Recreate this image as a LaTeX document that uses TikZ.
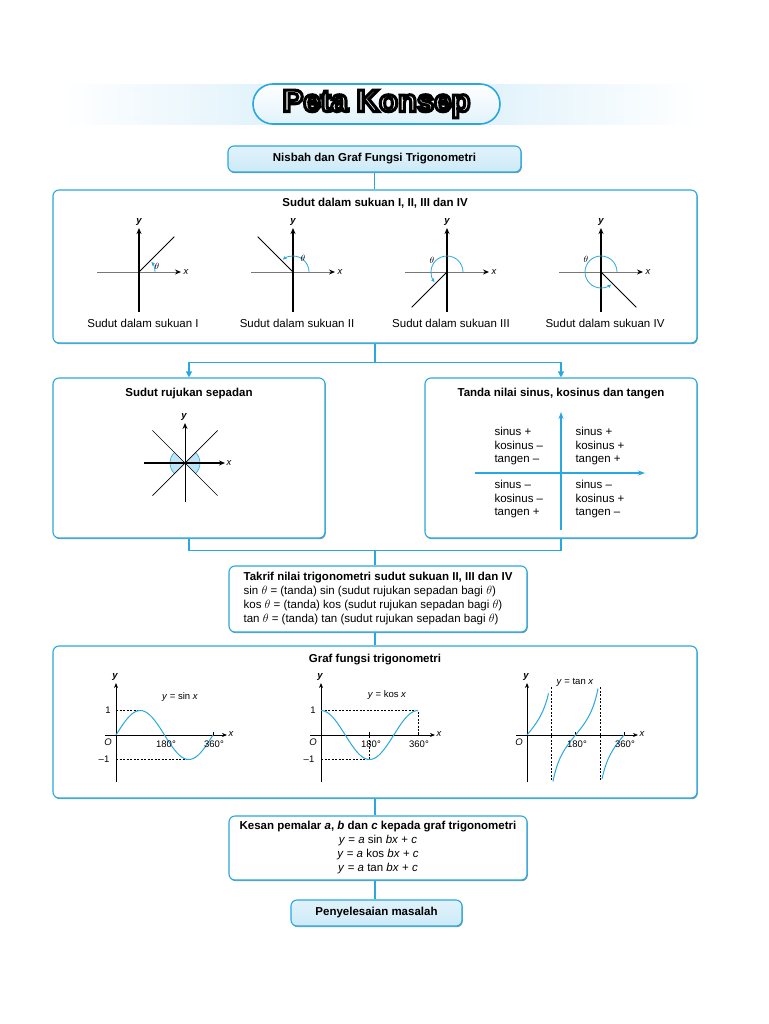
\documentclass[tikz,border=0pt]{standalone}
\usepackage{fontspec}
\setmainfont{Liberation Sans}
\newfontfamily\titlefont[FakeBold=10]{Liberation Sans}
\usetikzlibrary{arrows.meta,positioning,shadows,calc}
\definecolor{MapBlue}{HTML}{29A8DF}
\definecolor{HeadFill}{HTML}{CDEAF8}
\definecolor{BandBlue}{HTML}{D2ECF9}
\definecolor{ShadeBlue}{HTML}{BFE4F6}
\definecolor{AxisGray}{HTML}{777777}

\tikzset{
  mapbox/.style={draw=MapBlue, line width=1.1pt, rounded corners=6pt, fill=white,
    drop shadow={shadow xshift=0.8pt, shadow yshift=-1.2pt, fill=MapBlue!55!black, opacity=0.6}},
  headbox/.style={mapbox, top color=white!40!HeadFill, bottom color=HeadFill,
    font=\fontsize{11.5}{13}\selectfont\bfseries},
  link/.style={draw=MapBlue, line width=1.1pt},
  linkarrow/.style={link, -{Triangle[length=6pt,width=6pt]}},
  boxtitle/.style={font=\fontsize{11.5}{13}\selectfont\bfseries},
  small/.style={font=\fontsize{9.5}{11}\selectfont},
  axlab/.style={font=\fontsize{9.5}{11}\selectfont\itshape},
  ylab/.style={font=\fontsize{9.5}{11}\selectfont\itshape\bfseries},
  xaxis/.style={AxisGray, line width=1pt, -{Stealth[black,length=6pt,width=5pt]}},
  yaxis/.style={black, line width=1.6pt, -{Stealth[length=6pt,width=5pt]}},
  gaxis/.style={black, line width=0.8pt, -{Stealth[length=5pt,width=4pt]}},
  curve/.style={MapBlue, line width=1pt},
  guide/.style={black, dash pattern=on 2pt off 1.5pt, line width=0.5pt},
  signtext/.style={font=\fontsize{11.5}{13.5}\selectfont, align=left, anchor=west}
}

\begin{document}
\begin{tikzpicture}[x=1pt, y=1pt]
  \useasboundingbox[fill=white] (0,0) rectangle (768,-1024);

  % Title band
  \shade[left color=white, right color=BandBlue] (60,-85) rectangle (375,-125);
  \shade[left color=BandBlue, right color=white] (375,-85) rectangle (700,-125);
  \node[draw=MapBlue, line width=1.6pt, rounded corners=20pt, top color=white, bottom color=HeadFill!60,
    minimum width=247pt, minimum height=40pt] (title) at (376.5,-104) {};
  \node[text=white, font=\titlefont\bfseries\fontsize{31}{32}\selectfont] at (title)
    {\special{pdf:code 0 G}Peta Konsep};

  % Main boxes
  \node[headbox, minimum width=293pt, minimum height=26pt] (nisbah) at (374.5,-159)
    {Nisbah dan Graf Fungsi Trigonometri};
  \node[mapbox, minimum width=644pt, minimum height=153pt] (sukuan) at (375,-266.5) {};
  \node[boxtitle, below=5pt of sukuan.north] {Sudut dalam sukuan I, II, III dan IV};

  \node[mapbox, minimum width=272pt, minimum height=160pt] (rujukan) at (189,-458) {};
  \node[boxtitle, below=7pt of rujukan.north] {Sudut rujukan sepadan};
  \node[mapbox, minimum width=272pt, minimum height=160pt] (tanda) at (561,-458) {};
  \node[boxtitle, below=7pt of tanda.north] {Tanda nilai sinus, kosinus dan tangen};

  \node[mapbox, minimum width=298pt, minimum height=66pt, font=\fontsize{11.5}{14}\selectfont,
    align=left] (takrif) at (378,-599)
    {\textbf{Takrif nilai trigonometri sudut sukuan II, III dan IV}\\
     sin $\theta$ = (tanda) sin (sudut rujukan sepadan bagi $\theta$)\\
     kos $\theta$ = (tanda) kos (sudut rujukan sepadan bagi $\theta$)\\
     tan $\theta$ = (tanda) tan (sudut rujukan sepadan bagi $\theta$)};

  \node[mapbox, minimum width=644pt, minimum height=152pt] (graf) at (375,-722) {};
  \node[boxtitle, below=5pt of graf.north] {Graf fungsi trigonometri};

  \node[mapbox, minimum width=298pt, minimum height=64pt, font=\fontsize{11.5}{14}\selectfont,
    align=center] (kesan) at (378,-848)
    {\textbf{Kesan pemalar \textit{a}, \textit{b} dan \textit{c} kepada graf trigonometri}\\
     \textit{y} = \textit{a} sin \textit{bx} + \textit{c}\\
     \textit{y} = \textit{a} kos \textit{bx} + \textit{c}\\
     \textit{y} = \textit{a} tan \textit{bx} + \textit{c}};

  \node[headbox, minimum width=171pt, minimum height=26pt] (masalah) at (376.5,-913)
    {Penyelesaian masalah};

  % Connectors
  \draw[link] (nisbah.south) -- (nisbah.south |- sukuan.north);
  \coordinate (split) at ($(sukuan.south)+(0,-19)$);
  \draw[link] (sukuan.south) -- (split);
  \draw[linkarrow] (split) -| (rujukan.north);
  \draw[linkarrow] (split) -| (tanda.north);
  \coordinate (join) at ($(sukuan.south)+(0,-207)$);
  \draw[link] (rujukan.south) |- (join) -| (tanda.south);
  \draw[link] (join) -- (join |- takrif.north);
  \draw[link] (sukuan.south |- takrif.south) -- (sukuan.south |- graf.north);
  \draw[link] (graf.south) -- (graf.south |- kesan.north);
  \draw[link] (graf.south |- kesan.south) -- (graf.south |- masalah.north);

  % Angles in the four quadrants
  \foreach \cx/\ang/\quad/\tx/\ty in {139/45/I/18/6, 293/135/II/10/14, 447/225/III/-15/12, 601/315/IV/-15/13} {
    \begin{scope}[shift={(\cx,-272)}]
      \draw[xaxis] (-42,0) -- (42,0);
      \node[axlab] at (47,0) {x};
      \draw[yaxis] (0,-40) -- (0,44);
      \node[ylab] at (0,50) {y};
      \draw[black, line width=0.8pt] (0,0) -- (\ang:50);
      \draw[MapBlue, line width=0.8pt, -{Stealth[length=4pt,width=3.5pt]}] (16,0) arc (0:\ang-6:16);
      \node[font=\fontsize{9}{10}\selectfont] at (\tx,\ty) {$\theta$};
      \node[font=\fontsize{11.5}{13}\selectfont] at (4,-51) {Sudut dalam sukuan \quad};
    \end{scope}
  }

  % Reference angles
  \begin{scope}[shift={(185,-463)}]
    \fill[ShadeBlue] (0,0) -- (-45:15) arc (-45:45:15) -- cycle;
    \fill[ShadeBlue] (0,0) -- (135:15) arc (135:225:15) -- cycle;
    \draw[MapBlue, line width=0.6pt] (-45:15) arc (-45:45:15);
    \draw[MapBlue, line width=0.6pt] (135:15) arc (135:225:15);
    \draw[black, line width=0.7pt] (45:46) -- (225:46);
    \draw[black, line width=0.7pt] (135:46) -- (315:46);
    \draw[black, line width=1.6pt, -{Stealth[length=6pt,width=5pt]}] (-41,0) -- (40,0);
    \node[axlab] at (44,0) {x};
    \draw[black, line width=1pt, -{Stealth[length=6pt,width=5pt]}] (0,-39) -- (0,40);
    \node[ylab] at (-1,46) {y};
  \end{scope}

  % Signs in the quadrants
  \draw[MapBlue, line width=1.1pt, -{Stealth[length=7pt,width=5pt]}] (475,-473) -- (645,-473);
  \draw[MapBlue, line width=1.1pt, -{Stealth[length=7pt,width=5pt]}] (561,-530) -- (561,-412);
  \node[signtext] (tl) at (491,-446.5) {sinus +\\kosinus --\\tangen --};
  \node[signtext] (tr) at (572,-446.5) {sinus +\\kosinus +\\tangen +};
  \node[signtext] (bl) at (491,-499.5) {sinus --\\kosinus --\\tangen +};
  \node[signtext] (br) at (572,-499.5) {sinus --\\kosinus +\\tangen --};

  % Graph of sine
  \begin{scope}[shift={(116,-735)}]
    \draw[guide] (0,24.5) -- (24.25,24.5);
    \draw[guide] (0,-24.5) -- (72.75,-24.5);
    \draw[gaxis] (-11,0) -- (111,0);
    \draw[gaxis] (0,-47) -- (0,52);
    \draw[black, line width=0.5pt] (97,0) -- (97,3);
    \draw[curve] plot[domain=0:97, samples=60, smooth] (\x, {24.5*sin(\x*3.7113)});
    \node[axlab] at (115,1) {x};
    \node[ylab] at (-1,58) {y};
    \node[axlab] at (-8,-7) {O};
    \node[small] at (-8,25) {1};
    \node[small] at (-12,-24) {--1};
    \node[small] at (50,-9) {180°};
    \node[small] at (98,-9) {360°};
    \node[small] at (64,38) {\textit{y} = sin \textit{x}};
  \end{scope}

  % Graph of cosine
  \begin{scope}[shift={(321,-735)}]
    \draw[guide] (0,24.5) -- (97,24.5) -- (97,0);
    \draw[guide] (0,-24.5) -- (48.5,-24.5) -- (48.5,0);
    \draw[gaxis] (-11,0) -- (114,0);
    \draw[gaxis] (0,-47) -- (0,52);
    \draw[black, line width=0.5pt] (48.5,0) -- (48.5,3) (97,0) -- (97,3);
    \draw[curve] plot[domain=0:97, samples=60, smooth] (\x, {24.5*cos(\x*3.7113)});
    \node[axlab] at (118,1) {x};
    \node[ylab] at (-1,58) {y};
    \node[axlab] at (-8,-7) {O};
    \node[small] at (-8,25) {1};
    \node[small] at (-12,-24) {--1};
    \node[small] at (50,-9) {180°};
    \node[small] at (98,-9) {360°};
    \node[small] at (66,40) {\textit{y} = kos \textit{x}};
  \end{scope}

  % Graph of tangent
  \begin{scope}[shift={(527,-735)}]
    \draw[guide] (24.25,-45) -- (24.25,48);
    \draw[guide] (72.75,-45) -- (72.75,48);
    \draw[gaxis] (-11,0) -- (111,0);
    \draw[gaxis] (0,-47) -- (0,52);
    \draw[black, line width=0.5pt] (48.5,0) -- (48.5,3) (97,0) -- (97,3);
    \draw[curve] plot[domain=0:21.5, samples=30, smooth] (\x, {26*tan(\x*2.7)});
    \draw[curve] plot[domain=26:71, samples=40, smooth] (\x, {26*tan((\x-48.5)*2.7)});
    \draw[curve] plot[domain=75:97, samples=30, smooth] (\x, {26*tan((\x-97)*2.7)});
    \node[axlab] at (115,1) {x};
    \node[ylab] at (-1,58) {y};
    \node[axlab] at (-8,-7) {O};
    \node[small] at (50,-9) {180°};
    \node[small] at (98,-9) {360°};
    \node[small] at (48,53) {\textit{y} = tan \textit{x}};
  \end{scope}
\end{tikzpicture}
\end{document}
